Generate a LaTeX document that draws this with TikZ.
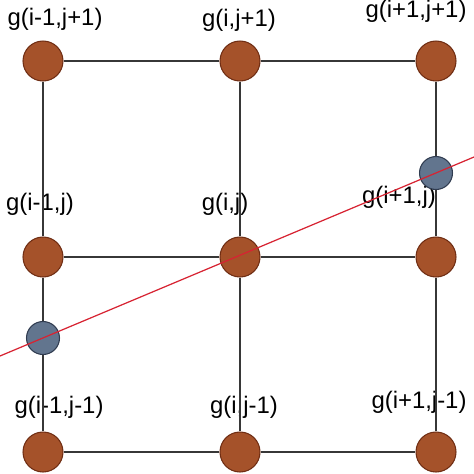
\documentclass[tikz,border=0pt]{standalone}
\usepackage{fontspec}
\setmainfont{Liberation Sans}

\definecolor{ptbrown}{RGB}{165,82,42}
\definecolor{ptedge}{RGB}{112,46,20}
\definecolor{ptblue}{RGB}{98,117,142}
\definecolor{ptblueedge}{RGB}{48,60,80}
\definecolor{gridgray}{RGB}{55,55,55}
\definecolor{cutred}{RGB}{215,35,50}

\begin{document}
\begin{tikzpicture}[x=0.02cm, y=-0.02cm,
  gridpt/.style={circle, draw=ptedge, fill=ptbrown, line width=0.6pt,
                 minimum size=0.8cm, inner sep=0pt},
  cutpt/.style={circle, draw=ptblueedge, fill=ptblue, line width=0.6pt,
                minimum size=0.66cm, inner sep=0pt},
  gridline/.style={draw=gridgray, line width=0.85pt},
  cutline/.style={draw=cutred, line width=0.7pt},
  lbl/.style={anchor=base, inner sep=0pt, font=\fontsize{13.6}{16}\selectfont}]

  \useasboundingbox (0,0) rectangle (474,474);

  % ───────── Grid points g(i,j) ─────────
  % columns i-1, i, i+1 -> 0,1,2 ; rows j-1, j, j+1 -> 0,1,2
  \foreach \i/\x in {0/43, 1/240, 2/436} {
    \foreach \j/\y in {0/452, 1/257, 2/61} {
      \node[gridpt] (g\i\j) at (\x,\y) {};
    }
  }

  % ───────── Labels ─────────
  \node[lbl] (t02) at (55,25)   {g(i-1,j+1)};
  \node[lbl] (t12) at (239,26)  {g(i,j+1)};
  \node[lbl] (t22) at (416,17)  {g(i+1,j+1)};
  \node[lbl] (t01) at (40,210)  {g(i-1,j)};
  \node[lbl] (t11) at (225,210) {g(i,j)};
  \node[lbl] (t21) at (399,203) {g(i+1,j)};
  \node[lbl] (t00) at (59,413)  {g(i-1,j-1)};
  \node[lbl] (t10) at (244,413) {g(i,j-1)};
  \node[lbl] (t20) at (419,408) {g(i+1,j-1)};

  % ───────── Grid lines ─────────
  \foreach \i in {0,1,2} {
    \draw[gridline] (g\i0) -- (g\i1);
    \draw[gridline] (g\i1) -- (g\i2);
  }
  \foreach \j in {0,1,2} {
    \draw[gridline] (g0\j) -- (g1\j);
    \draw[gridline] (g1\j) -- (g2\j);
  }

  % ───────── Crossing points on the cell edges ─────────
  \node[cutpt] (c0) at (43,338) {};
  \node[cutpt] (c2) at (436,173) {};

  % ───────── Cutting line ─────────
  \coordinate (cutW) at (0,356);
  \coordinate (cutE) at (474,157);
  \draw[cutline] (cutW) -- (cutE);

\end{tikzpicture}
\end{document}
